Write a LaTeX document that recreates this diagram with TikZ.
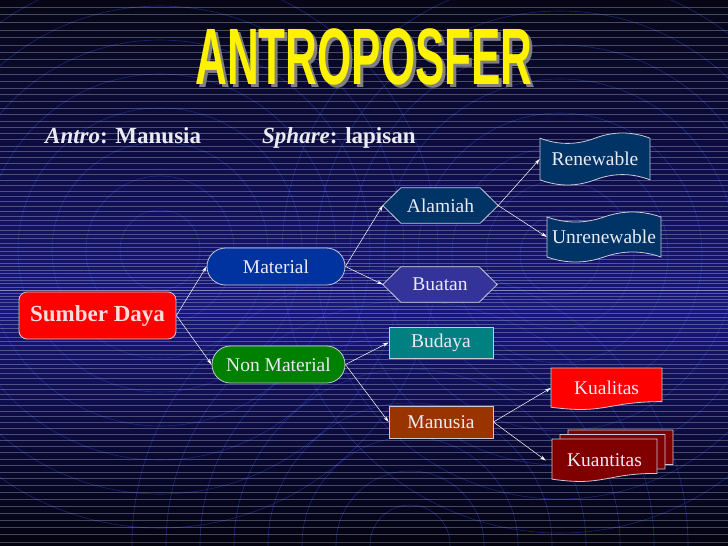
\documentclass[tikz,border=0pt]{standalone}
\usepackage{fontspec}
\setmainfont{Liberation Serif}
\setsansfont{Liberation Sans}
\usetikzlibrary{arrows.meta,shapes.misc,calc}
\definecolor{cBot}{HTML}{03030F}
\definecolor{cLow}{HTML}{080830}
\definecolor{cMid}{HTML}{18187E}
\definecolor{cUp}{HTML}{0C0C44}
\definecolor{cTop}{HTML}{060616}
\definecolor{ringc}{HTML}{2A3CB8}
\definecolor{edgec}{HTML}{C8C8D8}
\definecolor{txtc}{HTML}{EAEAF2}
\definecolor{cSD}{HTML}{FF0000}
\definecolor{cMat}{HTML}{0033A0}
\definecolor{cNon}{HTML}{008000}
\definecolor{cAlam}{HTML}{003366}
\definecolor{cBuat}{HTML}{333399}
\definecolor{cBud}{HTML}{008080}
\definecolor{cMan}{HTML}{993300}
\definecolor{cKual}{HTML}{FF0000}
\definecolor{cKuan}{HTML}{800000}
\pgfdeclareverticalshading{bgshade}{100bp}{color(0bp)=(cBot); color(25bp)=(cBot); color(33bp)=(cLow); color(47bp)=(cMid); color(61bp)=(cUp); color(75bp)=(cTop); color(100bp)=(cTop)}
\pgfdeclarelayer{bgl}
\pgfdeclarelayer{shp}
\pgfsetlayers{bgl,shp,main}
% hexagon behind a node: name, fill, chamfer
\newcommand\hexshape[3]{%
  \path[fill=#2,draw=edgec,line width=0.8pt] (#1.west) -- ([xshift=#3]#1.north west) -- ([xshift=-#3]#1.north east) -- (#1.east) -- ([xshift=-#3]#1.south east) -- ([xshift=#3]#1.south west) -- cycle;}
% wavy flag: name, w, h, fill
\newcommand\flagshape[4]{%
  \begin{scope}[shift={(#1.center)}]
  \def\W{#2}\def\H{#3}%
  \path[fill=#4,draw=edgec,line width=0.8pt]
    ({-0.5*\W},{-0.4*\H}) .. controls ({-0.3333*\W},{-0.2667*\H}) and ({-0.1667*\W},{-0.2667*\H}) .. (0,{-0.4*\H})
    .. controls ({0.1667*\W},{-0.5333*\H}) and ({0.3333*\W},{-0.5333*\H}) .. ({0.5*\W},{-0.4*\H})
    -- ({0.5*\W},{0.4*\H})
    .. controls ({0.3333*\W},{0.2667*\H}) and ({0.1667*\W},{0.2667*\H}) .. (0,{0.4*\H})
    .. controls ({-0.1667*\W},{0.5333*\H}) and ({-0.3333*\W},{0.5333*\H}) .. ({-0.5*\W},{0.4*\H}) -- cycle;
  \end{scope}}
% document: name, w, h, fill, dx, dy
\newcommand\docshape[6]{%
  \begin{scope}[shift={(#1.center)},shift={(#5,#6)}]
  \def\W{#2}\def\H{#3}%
  \path[fill=#4,draw=edgec,line width=0.8pt]
    ({-0.5*\W},{-0.5*\H}) -- ({0.5*\W},{-0.5*\H}) -- ({0.5*\W},{0.3*\H})
    .. controls (0,{0.3*\H}) and (0,{0.607*\H}) .. ({-0.5*\W},{0.434*\H}) -- cycle;
  \end{scope}}
\begin{document}
\begin{tikzpicture}[x=1pt,y=-1pt,
  ring/.style={draw=ringc,line width=0.6pt,opacity=0.55},
  hline/.style={draw=white,line width=0.7pt,opacity=0.27},
  arr/.style={draw=white,line width=0.5pt,-{Stealth[length=6pt,width=3.5pt]}},
  txt/.style={text=txtc,font=\fontsize{19.5}{20}\selectfont,inner sep=0pt},
  bx/.style={txt,draw=edgec,line width=0.8pt},
  ghost/.style={txt}
]
\useasboundingbox (0,0) rectangle (728,546);
\begin{pgfonlayer}{bgl}
  \shade[shading=bgshade] (0,0) rectangle (728,546);
  \begin{scope}
    \clip (0,0) rectangle (728,546);
    \foreach \r in {40,74,...,280} {
      \draw[ring] (160,250) circle[radius=\r];
      \draw[ring] (560,255) circle[radius=\r];
    }
    \foreach \r in {40,74,...,310} {
      \draw[ring] (410,545) circle[radius=\r];
    }
    \foreach \t in {0,...,62} {
      \pgfmathsetmacro\dy{3*\t+0.047*\t*\t}
      \draw[hline] (0,{290-\dy}) -- (728,{290-\dy});
      \draw[hline] (0,{290+\dy}) -- (728,{290+\dy});
    }
  \end{scope}
\end{pgfonlayer}

% title with shadow
\node[text=gray,font=\sffamily\bfseries\fontsize{80}{80}\selectfont,inner sep=0pt] (titlesh) at (367,60) {\scalebox{0.55}[1]{ANTROPOSFER}};
\node[text=yellow,font=\sffamily\bfseries\fontsize{80}{80}\selectfont,inner sep=0pt] (title) at (364,57) {\scalebox{0.55}[1]{ANTROPOSFER}};

% subtitle
\node[text=txtc,font=\bfseries\fontsize{23}{24}\selectfont,inner sep=0pt,anchor=base west] (antro) at (45,143) {\textit{Antro}: Manusia};
\node[text=txtc,font=\bfseries\fontsize{23}{24}\selectfont,inner sep=0pt,anchor=base west] (sphare) at (262,143) {\textit{Sphare}: lapisan};

% nodes
\node[bx,fill=cSD,rounded corners=8pt,minimum width=157pt,minimum height=47pt,text=white!86!red,font=\bfseries\fontsize{23}{24}\selectfont] (sd) at (97.5,315.5) {Sumber Daya};
\node[bx,fill=cMat,shape=rounded rectangle,minimum width=138pt,minimum height=37pt] (mat) at (276,266.5) {Material};
\node[bx,fill=cNon,shape=rounded rectangle,minimum width=133pt,minimum height=37pt] (non) at (278.5,364.5) {Non Material};
\node[ghost,minimum width=115pt,minimum height=35pt] (alam) at (440.5,205.5) {Alamiah};
\node[ghost,minimum width=114pt,minimum height=35pt] (buat) at (440,284.5) {Buatan};
\node[bx,fill=cBud,minimum width=104pt,minimum height=31pt] (bud) at (441,342.5) {Budaya};
\node[bx,fill=cMan,minimum width=104pt,minimum height=32pt] (man) at (441,422) {Manusia};
\node[ghost,minimum width=110pt,minimum height=52pt] (ren) at (595,159) {Renewable};
\node[ghost,minimum width=114pt,minimum height=50pt] (unren) at (604,237) {Unrenewable};
\node[ghost,minimum width=111pt,minimum height=40pt] (kual) at (606.5,388) {Kualitas};
\node[ghost,minimum width=105pt,minimum height=43pt] (kuan) at (604.5,460.5) {Kuantitas};

\begin{pgfonlayer}{shp}
  \hexshape{alam}{cAlam}{18pt}
  \hexshape{buat}{cBuat}{18pt}
  \flagshape{ren}{110}{52}{cAlam}
  \flagshape{unren}{114}{50}{cAlam}
  \docshape{kual}{111}{42}{cKual}{0}{1}
  \docshape{kuan}{105}{43}{cKuan}{16}{-9}
  \docshape{kuan}{105}{43}{cKuan}{8}{-4.5}
  \docshape{kuan}{105}{43}{cKuan}{0}{0}
\end{pgfonlayer}

% connectors
\draw[arr] (sd.east) -- (mat.west);
\draw[arr] (sd.east) -- (non.west);
\draw[arr] (mat.east) -- (alam.west);
\draw[arr] (mat.east) -- (buat.west);
\draw[arr] (non.east) -- (bud.west);
\draw[arr] (non.east) -- (man.west);
\draw[arr] (alam.east) -- (ren.west);
\draw[arr] (alam.east) -- (unren.west);
\draw[arr] (man.east) -- (kual.west);
\draw[arr] (man.east) -- ([xshift=-6pt]kuan.west);
\end{tikzpicture}
\end{document}
